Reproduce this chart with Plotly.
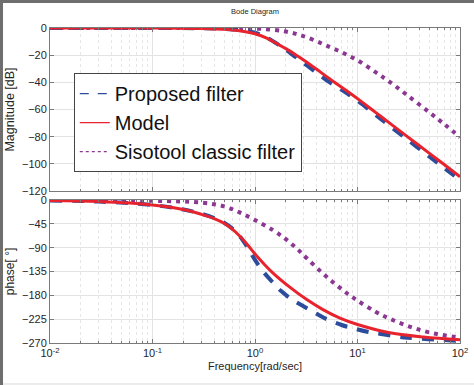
import plotly.graph_objects as go

# ---------------- data ----------------
w_model_mag = [0.01, 0.1, 0.3, 0.5, 0.7, 1, 1.3, 1.75, 2, 2.5, 3, 4, 5, 7, 10, 15, 20, 30, 50, 70, 100]
mag_model = [0, -0.05, -0.4, -1.0, -2.0, -4.2, -7.5, -12.8, -15.2, -19.8, -23.7, -30.4, -35.8, -43.6, -52, -62.1, -69.3, -79.4, -92.1, -100.5, -109.5]

w_prop_mag = [0.01, 0.1, 0.3, 0.5, 0.7, 1, 1.3, 1.75, 2, 2.5, 3, 4, 5, 7, 10, 15, 20, 30, 50, 70, 100]
mag_prop = [0, 0, -0.2, -0.6, -1.4, -3.5, -7, -13, -16, -21.5, -25.8, -33, -38.5, -45.5, -53.5, -64, -71.3, -81.6, -94.5, -103, -112]

w_siso_mag = [0.01, 0.3, 0.5, 1, 1.5, 2, 2.5, 3, 4, 5, 7, 10, 15, 20, 30, 50, 70, 100]
mag_siso = [0, 0, -0.1, -0.4, -1.3, -2.6, -4.3, -6.1, -9.8, -13, -17.8, -23.8, -32.5, -39, -49, -62, -70.7, -80.5]

w_model_ph = [0.01, 0.03, 0.1, 0.2, 0.3, 0.4, 0.5, 0.6, 0.7, 0.85, 1, 1.2, 1.5, 2.2, 3.2, 4.6, 6.75, 10, 20, 44, 100]
ph_model = [-1, -3, -9.5, -18, -27, -35, -44, -55, -67, -85, -102, -119, -138, -165, -188, -207, -223, -235, -250, -258.6, -264]

w_prop_ph = [0.01, 0.03, 0.1, 0.2, 0.3, 0.4, 0.5, 0.6, 0.7, 0.85, 1, 1.2, 1.5, 1.8, 2.3, 3, 4, 5, 7, 9.4, 13, 17, 25, 31, 50, 100]
ph_prop = [-1, -3, -9.5, -18, -26, -34, -43, -54, -67, -90, -113, -135, -156, -172, -188, -201, -215, -225, -236, -243, -249.5, -253, -258, -260, -263, -266]

w_siso_ph = [0.01, 0.1, 0.3, 0.5, 0.7, 1, 1.5, 2, 2.6, 3.2, 4.5, 6, 8, 10, 15, 20, 30, 50, 100]
ph_siso = [0, -1.5, -5, -12, -23, -38, -57, -74, -93, -110, -137, -158, -177, -190, -211, -223, -237, -250, -260]

names = ["Proposed filter", "Model", "Sisotool classic filter"]
mag_ticks = [0, -20, -40, -60, -80, -100, -120]
phase_ticks = [0, -45, -90, -135, -180, -225, -270]
freq_ticks = [0.01, 0.1, 1, 10, 100]
freq_ticktext = ["10<sup>-2</sup>", "10<sup>-1</sup>", "10<sup>0</sup>", "10<sup>1</sup>", "10<sup>2</sup>"]

# ---------------- styling ----------------
BLUE = "#2c4c9c"
RED = "#e8232d"
PURPLE = "#8c3892"
FONT = "Liberation Sans, Arial, Helvetica, sans-serif"

minor_vals = [m * 10 ** e for e in (-2, -1, 0, 1) for m in range(2, 10)]

fig = go.Figure()

def add(x, y, color, dash, width, yaxis, xaxis):
    fig.add_trace(go.Scatter(
        x=x, y=y, mode="lines", showlegend=False, hoverinfo="skip",
        line=dict(color=color, width=width, dash=dash, shape="spline", smoothing=1.0),
        xaxis=xaxis, yaxis=yaxis, cliponaxis=False))

# magnitude
add(w_siso_mag, mag_siso, PURPLE, "4px,5px", 4, "y", "x")
add(w_prop_mag, mag_prop, BLUE, "12px,10px", 4, "y", "x")
add(w_model_mag, mag_model, RED, "solid", 3, "y", "x")
# phase
add(w_siso_ph, ph_siso, PURPLE, "4px,5px", 4, "y2", "x2")
add(w_prop_ph, ph_prop, BLUE, "12px,10px", 4, "y2", "x2")
add(w_model_ph, ph_model, RED, "solid", 3, "y2", "x2")

# legend entries (thin samples as in the reference)
legend_styles = [(BLUE, "dash", 1.3), (RED, "solid", 1.3), (PURPLE, "dot", 1.3)]
for nm, (c, d, wd) in zip(names, legend_styles):
    fig.add_trace(go.Scatter(x=[None], y=[None], mode="lines", name=nm,
                             line=dict(color=c, dash=d, width=wd), xaxis="x", yaxis="y"))

axis_common = dict(
    automargin=False,
    showline=True, linecolor="#7a7a7a", linewidth=1, mirror="allticks",
    ticks="inside", ticklen=4, tickcolor="#7a7a7a",
    showgrid=True, gridcolor="#e3e3e3", gridwidth=1,
    zeroline=False, tickfont=dict(family=FONT, size=11, color="#262626"),
)

xcommon = dict(axis_common, type="log", range=[-2, 2], tickvals=freq_ticks,
               minor=dict(tickvals=minor_vals, ticks="inside", ticklen=2, tickcolor="#7a7a7a",
                          showgrid=True, gridcolor="#e6e6e6", griddash="dot"))

fig.update_layout(
    template="none",
    width=474, height=385,
    margin=dict(l=50, r=14, t=28, b=42),
    paper_bgcolor="white", plot_bgcolor="white",
    font=dict(family=FONT, color="#262626"),
    title=dict(text="Bode Diagram", x=0.538, xanchor="center", y=0.97, yanchor="middle",
               font=dict(size=7.5, color="#262626", family=FONT)),
    xaxis=dict(xcommon, domain=[0, 1], anchor="y", showticklabels=False),
    yaxis=dict(axis_common, domain=[0.4825, 1], anchor="x", range=[-120, 0], tickvals=mag_ticks,
               title=dict(text="Magnitude [dB]", font=dict(size=12.5, family=FONT, color="#262626"), standoff=4)),
    xaxis2=dict(xcommon, domain=[0, 1], anchor="y2", ticktext=freq_ticktext,
                title=dict(text="Frequency[rad/sec]", font=dict(size=11, family=FONT, color="#262626"), standoff=4)),
    yaxis2=dict(axis_common, domain=[0, 0.454], anchor="x2", range=[-270, 0], tickvals=phase_ticks,
                title=dict(text="phase[ °]", font=dict(size=12, family=FONT, color="#262626"), standoff=4)),
    legend=dict(x=0.058, y=0.857, xanchor="left", yanchor="top",
                bgcolor="white", bordercolor="#444", borderwidth=1,
                font=dict(size=20, family=FONT, color="#111"),
                itemwidth=30, tracegroupgap=0),
    shapes=[
        dict(type="rect", xref="paper", yref="paper", x0=-0.125, x1=-0.1146, y0=-0.2, y1=1.1,
             fillcolor="#6e6e6e", line=dict(width=0), layer="above"),
        dict(type="rect", xref="paper", yref="paper", x0=-0.125, x1=1.05, y0=1.0794, y1=1.1,
             fillcolor="#6e6e6e", line=dict(width=0), layer="above"),
        dict(type="rect", xref="paper", yref="paper", x0=-0.1146, x1=1.05, y0=-0.14, y1=-0.1272,
             fillcolor="#ececec", line=dict(width=0), layer="above"),
    ],
)

fig.write_html("out.html", config={"displayModeBar": False},
               post_script="document.body.style.margin='0';")
